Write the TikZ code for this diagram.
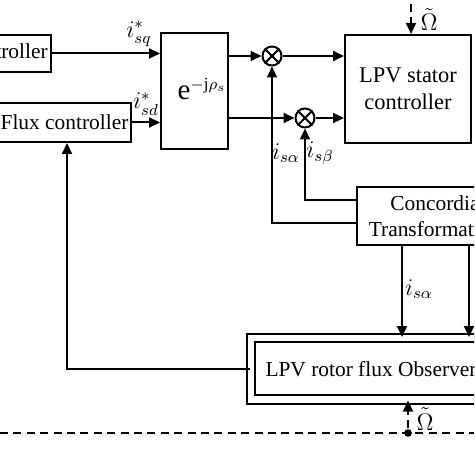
\documentclass[tikz,border=0pt]{standalone}
\usepackage{amsmath, amssymb}
\usepackage{fontspec}
\setmainfont{Liberation Serif}
\usetikzlibrary{arrows.meta}

\begin{document}
\begin{tikzpicture}[x=0.5pt, y=-0.5pt, line width=1pt,
  >={Triangle[length=5.5pt,width=5pt]},
  block/.style={draw, line width=1pt, inner sep=1.5pt, align=center,
    font=\fontsize{10.7}{13}\selectfont},
  summer/.style={draw, circle, line width=1pt, minimum size=9.5pt, inner sep=0pt},
  lbl/.style={inner sep=0pt, font=\fontsize{12}{14}\selectfont},
  omegadash/.style={dash pattern=on 4pt off 2.7pt}]
\useasboundingbox (0,0) rectangle (474,474);
\clip (0,0) rectangle (474,474);

% blocks
\path (-22.75,53.5) node[block, minimum width=74pt, minimum height=18.5pt] (speed) {Speed controller};
\path (64.5,122.5) node[block, minimum width=64.5pt, minimum height=19.5pt] (flux) {Flux controller};
\path (194.5,91) node[block, minimum width=33.5pt, minimum height=58pt] (rot) {};
\path (202,89) node[inner sep=0pt, font=\fontsize{14.5}{16}\selectfont] (rottxt) {$\mathrm{e}^{\text{\fontsize{8.5}{10}\selectfont$-\mathrm{j}\rho_{s}$}}$};
\path (408,89) node[block, minimum width=63pt, minimum height=54pt, font=\fontsize{11.2}{13.5}\selectfont] (stator) {LPV stator\\controller};
\path (435,216) node[block, minimum width=78pt, minimum height=29pt] (conc) {Concordia\\Transformation};
\path (371,368.75) node[block, double, double distance=3.25pt, outer sep=auto, minimum width=120pt, minimum height=30.75pt] (obs) {LPV rotor flux Observer};

% summing points
\path (272,56) node[summer] (s1) {};
\path (305,118) node[summer] (s2) {};
\draw (s1.north east) -- (s1.south west) (s1.north west) -- (s1.south east);
\draw (s2.north east) -- (s2.south west) (s2.north west) -- (s2.south east);

% references
\draw[->] (speed.east) -- (speed.east -| rot.west);
\draw[->] (flux.east) -- (flux.east -| rot.west);
\path (139,34) node[lbl] (isq) {$i^{*}_{sq}$};
\path (146,104) node[lbl] (isd) {$i^{*}_{sd}$};

\draw[->] (rot.east |- s1.west) -- (s1.west);
\draw[->] (rot.east |- s2.west) -- (s2.west);
\draw[->] (s1.east) -- (s1.east -| stator.west);
\draw[->] (s2.east) -- (s2.east -| stator.west);

% measured currents
\draw[->] ([yshift=-3.5pt]conc.west) -| (s1.south);
\draw[->] ([yshift=8pt]conc.west) -| (s2.south);
\path (286,153) node[lbl] (ia) {$i_{s\alpha}$};
\path (320,153) node[lbl] (ib) {$i_{s\beta}$};

\draw[->] ([xshift=-16.5pt]conc.south) -- ([xshift=-16.5pt]conc.south |- obs.north);
\draw[->] ([xshift=17pt]conc.south) -- ([xshift=17pt]conc.south |- obs.north);
\path (419,289) node[lbl] (ia2) {$i_{s\alpha}$};

% flux feedback
\draw[->] (obs.west) -| ([xshift=1.25pt]flux.south);

% speed estimate
\coordinate (dl) at (0,433);
\coordinate (dr) at (474,433);
\draw[omegadash] (dl) -- (dr);
\path (408,433) node[circle, fill, inner sep=0pt, minimum size=3.8pt] (tap) {};
\draw[->, omegadash] (tap) -- (tap |- obs.south);
\path (425,419) node[lbl] (wlow) {$\tilde{\Omega}$};

\coordinate (wtop) at (411,4);
\draw[->, omegadash] (wtop) -- (wtop |- stator.north);
\path (429,20) node[lbl] (wup) {$\tilde{\Omega}$};
\end{tikzpicture}
\end{document}
